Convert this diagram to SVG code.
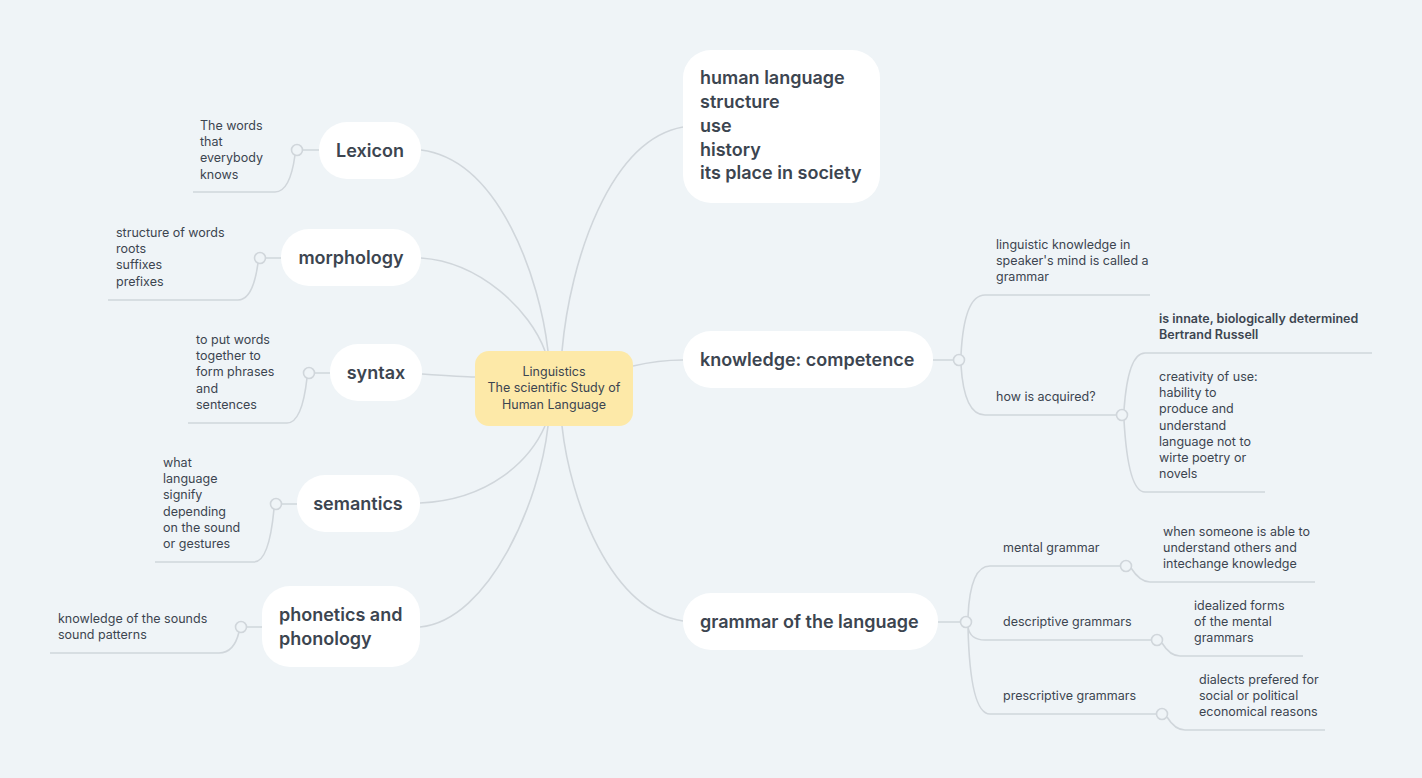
<svg xmlns="http://www.w3.org/2000/svg" width="1422" height="778" viewBox="0 0 1422 778">
<style>
.bg{fill:#eff4f7}
.n{fill:#fff}
.c{fill:#fde9a8}
.l{fill:none;stroke:#d0d6db;stroke-width:1.6}
.d{fill:#eff4f7;stroke:#d0d6db;stroke-width:1.6}
text{font-family:Inter,"Open Sans",sans-serif;fill:#3c4550}
.b{font-size:18px;font-weight:600}
.s{font-size:12.5px}
.sb{font-size:12.5px;font-weight:600}
.m{text-anchor:middle}
</style>
<rect class="bg" width="1422" height="778"/>
<g id="connectors">
<path class="l" d="M421,150 C500,160 540,280 548,351"/>
<path class="l" d="M421,258 C480,262 530,310 545,351"/>
<path class="l" d="M422,374 C450,376 465,377 475,377"/>
<path class="l" d="M420,503 C490,500 530,460 545,426"/>
<path class="l" d="M420,627 C490,620 540,500 548,426"/>
<path class="l" d="M683,127 C610,140 570,260 562,351"/>
<path class="l" d="M633,366 C650,362 665,360 683,360"/>
<path class="l" d="M683,621 C610,610 570,500 562,426"/>
<path class="l" d="M319,150 L302,150 M295,155 Q290,192 275,192 L193,192"/>
<path class="l" d="M281,258 L265,258 M258,263 Q253,300 238,300 L108,300"/>
<path class="l" d="M330,373 L314,373 M307,378 Q302,423 287,423 L188,423"/>
<path class="l" d="M297,504 L281,504 M274,509 Q269,562 254,562 L155,562"/>
<path class="l" d="M262,627 L246,627 M239,632 Q234,653 219,653 L50,653"/>
<path class="l" d="M933,360 L954,360 M961,355 Q964,295 985,295 L1150,295 M961,365 Q964,415 985,415 L1117,415"/>
<path class="l" d="M1124,410 Q1128,353 1145,353 L1372,353 M1124,420 Q1128,492 1145,492 L1265,492"/>
<path class="l" d="M938,622 L961,622 M968,617 Q970,566 990,566 L1121,566 M968,627 Q970,640 985,640 L1152,640 M968,627 Q970,714 990,714 L1157,714"/>
<path class="l" d="M1131,568 Q1140,582 1150,582 L1315,582 M1162,643 Q1170,656 1180,656 L1303,656 M1167,717 Q1175,730 1185,730 L1325,730"/>
<circle class="d" cx="297" cy="150" r="5.5"/>
<circle class="d" cx="260" cy="258" r="5.5"/>
<circle class="d" cx="309" cy="373" r="5.5"/>
<circle class="d" cx="276" cy="504" r="5.5"/>
<circle class="d" cx="241" cy="627" r="5.5"/>
<circle class="d" cx="959" cy="360" r="5.5"/>
<circle class="d" cx="1122" cy="415" r="5.5"/>
<circle class="d" cx="966" cy="622" r="5.5"/>
<circle class="d" cx="1126" cy="566" r="5.5"/>
<circle class="d" cx="1157" cy="640" r="5.5"/>
<circle class="d" cx="1162" cy="714" r="5.5"/>
</g>
<g id="center"><rect class="c" x="475" y="351" width="158" height="75" rx="14"/>
<text class="s m" x="554" y="376">Linguistics</text><text class="s m" x="554" y="392">The scientific Study of</text><text class="s m" x="554" y="409">Human Language</text></g>
<g id="human"><rect class="n" x="683" y="50" width="197" height="153" rx="28"/>
<text class="b" x="700" y="84">human language</text><text class="b" x="700" y="108">structure</text><text class="b" x="700" y="132">use</text><text class="b" x="700" y="156">history</text><text class="b" x="700" y="179">its place in society</text></g>
<g id="knowledge"><rect class="n" x="683" y="331" width="250" height="57" rx="28"/><text class="b" x="700" y="366">knowledge: competence</text></g>
<g id="grammar"><rect class="n" x="683" y="593" width="255" height="57" rx="28"/><text class="b" x="700" y="628">grammar of the language</text></g>
<g id="lexicon"><rect class="n" x="319" y="122" width="102" height="57" rx="28"/><text class="b m" x="370" y="157">Lexicon</text></g>
<g id="morphology"><rect class="n" x="281" y="229" width="140" height="57" rx="28"/><text class="b m" x="351" y="264">morphology</text></g>
<g id="syntax"><rect class="n" x="330" y="344" width="92" height="57" rx="28"/><text class="b m" x="376" y="379">syntax</text></g>
<g id="semantics"><rect class="n" x="297" y="475" width="123" height="57" rx="28"/><text class="b m" x="358" y="510">semantics</text></g>
<g id="phonetics"><rect class="n" x="262" y="586" width="158" height="81" rx="28"/><text class="b" x="279" y="621">phonetics and</text><text class="b" x="279" y="645">phonology</text></g>
<g id="leaves">
<text class="s" x="200" y="130">The words</text><text class="s" x="200" y="146">that</text><text class="s" x="200" y="162">everybody</text><text class="s" x="200" y="179">knows</text>
<text class="s" x="116" y="237">structure of words</text><text class="s" x="116" y="253">roots</text><text class="s" x="116" y="269">suffixes</text><text class="s" x="116" y="286">prefixes</text>
<text class="s" x="196" y="344">to put words</text><text class="s" x="196" y="360">together to</text><text class="s" x="196" y="376">form phrases</text><text class="s" x="196" y="393">and</text><text class="s" x="196" y="409">sentences</text>
<text class="s" x="163" y="467">what</text><text class="s" x="163" y="483">language</text><text class="s" x="163" y="499">signify</text><text class="s" x="163" y="516">depending</text><text class="s" x="163" y="532">on the sound</text><text class="s" x="163" y="548">or gestures</text>
<text class="s" x="58" y="623">knowledge of the sounds</text><text class="s" x="58" y="639">sound patterns</text>
<text class="s" x="996" y="249">linguistic knowledge in</text><text class="s" x="996" y="265">speaker's mind is called a</text><text class="s" x="996" y="281">grammar</text>
<text class="s" x="996" y="401">how is acquired?</text>
<text class="sb" x="1159" y="323">is innate, biologically determined</text><text class="sb" x="1159" y="339">Bertrand Russell</text>
<text class="s" x="1159" y="381">creativity of use:</text><text class="s" x="1159" y="397">hability to</text><text class="s" x="1159" y="413">produce and</text><text class="s" x="1159" y="430">understand</text><text class="s" x="1159" y="446">language not to</text><text class="s" x="1159" y="462">wirte poetry or</text><text class="s" x="1159" y="478">novels</text>
<text class="s" x="1003" y="552">mental grammar</text><text class="s" x="1003" y="626">descriptive grammars</text><text class="s" x="1003" y="700">prescriptive grammars</text>
<text class="s" x="1163" y="536">when someone is able to</text><text class="s" x="1163" y="552">understand others and</text><text class="s" x="1163" y="568">intechange knowledge</text>
<text class="s" x="1194" y="610">idealized forms</text><text class="s" x="1194" y="626">of the mental</text><text class="s" x="1194" y="642">grammars</text>
<text class="s" x="1199" y="684">dialects prefered for</text><text class="s" x="1199" y="700">social or political</text><text class="s" x="1199" y="716">economical reasons</text>
</g>
</svg>
